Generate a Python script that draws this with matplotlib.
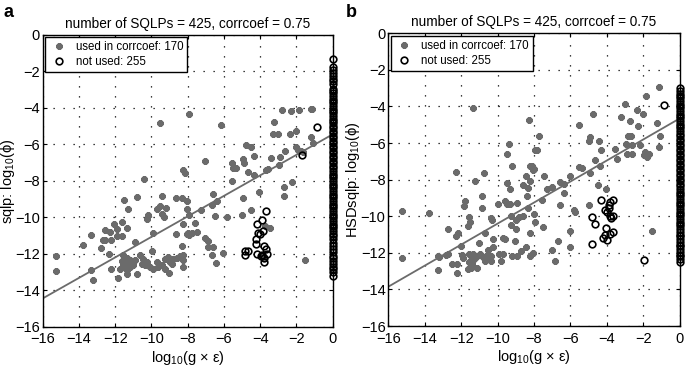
import matplotlib
matplotlib.use("Agg")
import matplotlib.pyplot as plt

plt.rcParams['font.family'] = ['Liberation Sans', 'DejaVu Sans']
plt.rcParams['mathtext.fontset'] = 'custom'
plt.rcParams['mathtext.rm'] = 'Liberation Sans'
plt.rcParams['mathtext.it'] = 'Liberation Sans'

# ---------------- data: panel a ----------------
a_used_x = [-9.53, -7.93, -8.28, -8.15, -10.4, -11.5, -10.78, -9.4, -8.66, -8.33, -8.06, -11.28, -9.68,
            -9.53, -9.22, -8.06, -10.18, -10.27, -9.44, -9.29, -7.93,
            -12.07, -11.64, -11.37, -12.55, -12.29, -11.89, -13.34, -13.8, -12.78, -12.69, -12.55, -12.23,
            -11.89, -11.64, -10.91, -12.33, -9.93, -8.66, -8.06, -7.93, -8.28, -8.33, -15.27, -15.28,
            -13.35, -13.24, -12.25, -11.86,
            -11.59, -11.37, -11.19, -11.46, -11.65, -10.91, -10.63, -10.45, -10.27, -10.54, -10.36, -10.08,
            -9.9, -9.72, -9.62, -9.44, -9.26, -9.07, -8.98, -8.89, -8.8, -8.61, -8.43, -8.24, -8.24, -8.24,
            -9.99, -10.82, -11.33, -11.74, -11.19, -11.33, -11.0, -9.26, -9.02, -11.55, -11.28,
            -6.18, -2.78, -2.32, -1.86, -1.22, -1.13, -3.24, -3.28, -3.0, -2.36, -2.05, -4.79, -4.51, -4.33,
            -7.05, -5.58, -4.97, -4.88, -5.52, -5.36, -4.69, -4.34, -3.7, -3.55, -3.43, -2.95, -2.89, -2.64,
            -2.0, -1.9, -1.75, -1.62, -1.17, -1.07, -5.58, -2.67, -2.23,
            -2.67, -4.07, -4.93, -6.59, -6.4, -6.68, -7.27, -6.5, -5.85, -5.03, -4.53, -7.6, -3.46, -3.74,
            -7.97, -7.78, -7.51, -7.05, -6.9, -6.86, -6.63, -6.68, -6.44, -6.04, -1.53, -3.88, -3.8]
a_used_y = [-4.85, -4.34, -7.42, -7.55, -7.88, -9.07, -8.9, -8.85, -8.94, -8.94, -9.1, -9.56, -9.56,
            -9.38, -9.49, -9.55, -9.89, -10.07, -9.8, -9.98, -9.89,
            -10.35, -10.26, -10.57, -10.68, -10.81, -10.63, -10.99, -11.54, -11.67, -11.23, -11.23, -11.26,
            -11.04, -11.04, -11.36, -12.0, -10.84, -10.93, -10.9, -10.99, -10.35, -11.58, -12.12, -12.97,
            -12.88, -13.46, -12.86, -13.33,
            -12.09, -12.22, -12.36, -12.4, -12.42, -12.33, -12.09, -12.27, -12.46, -12.55, -12.64, -12.73,
            -12.82, -12.46, -12.73, -12.64, -12.27, -12.18, -12.46, -12.55, -12.27, -12.22, -12.15, -12.09, -12.36, -12.7,
            -11.85, -13.13, -13.1, -12.82, -12.73, -12.91, -12.64, -12.82, -13.06, -12.64, -12.55,
            -4.94, -4.12, -4.18, -4.14, -4.07, -4.07, -4.76, -5.44, -5.44, -5.44, -5.26, -6.01, -6.14, -6.65,
            -6.9, -7.01, -6.83, -7.01, -7.27, -7.27, -7.51, -7.66, -7.38, -7.33, -6.74, -7.11, -6.72, -6.37,
            -6.14, -6.32, -6.37, -6.41, -5.62, -5.92, -8.02, -8.33, -8.06,
            -8.83, -8.61, -8.94, -8.74, -9.1, -9.34, -9.58, -9.95, -9.98, -9.89, -9.58, -10.29, -10.59, -10.48,
            -10.84, -10.84, -10.81, -11.12, -11.32, -11.63, -11.63, -12.09, -12.49, -11.94, -12.36, -12.09, -12.2]

a_nu_x = [-0.85, -1.68, -3.66, -3.88, -4.18, -3.85, -4.12, -4.03, -4.25, -4.23, -3.81, -4.84, -4.66,
          -4.84, -3.68, -3.65, -4.16, -3.78, -3.78, -3.9, -3.95]
a_nu_y = [-5.04, -6.56, -9.65, -10.13, -10.38, -10.77, -10.86, -10.9, -11.17, -11.48, -11.59, -11.87, -11.87,
          -12.05, -11.76, -11.99, -12.03, -12.22, -12.45, -12.05, -12.15]
a_zero_y = [-1.3, -1.75, -1.95, -2.1, -2.25, -2.4, -2.55, -2.7, -2.95, -3.05, -3.2, -3.35, -3.5, -3.6,
            -3.75, -3.9, -4.05, -4.15, -4.3, -4.45, -4.6, -4.7, -4.85, -5.0, -5.1, -5.25, -5.4, -5.55,
            -5.65, -5.8, -5.95, -6.1, -6.2, -6.35, -6.5, -6.65, -6.75, -6.9, -7.05, -7.2, -7.3, -7.45,
            -7.6, -7.75, -7.85, -8.0, -8.15, -8.3, -8.4, -8.55, -8.7, -8.85, -8.95, -9.1, -9.25, -9.4,
            -9.5, -9.65, -9.8, -9.95, -10.05, -10.2, -10.35, -10.5, -10.6, -10.75, -10.9, -11.05, -11.2,
            -11.4, -11.6, -11.75, -11.9, -12.1, -12.25, -12.4, -12.55, -12.7, -12.85, -13.0, -13.2]
a_fit_x = [-16, 0]
a_fit_y = [-14.45, -5.45]

# ---------------- data: panel b ----------------
b_used_x = [-11.33, -8.29, -9.39, -9.48, -7.94, -9.22, -8.2, -8.07, -12.28, -10.76, -11.24, -9.48, -9.3,
            -8.43, -8.2, -8.62, -8.31, -10.87, -11.79, -11.86, -10.87, -9.99, -9.59, -9.5, -9.31, -8.95,
            -8.4, -8.31,
            -15.25, -13.78, -15.25, -11.58, -11.49, -11.64, -10.34, -10.3, -12.74, -12.19, -12.28, -12.0,
            -10.7, -11.03, -10.27, -9.26, -8.98, -8.84, -9.26, -8.98, -8.62, -9.72, -9.59, -9.02, -8.25,
            -8.01, -7.94, -8.43, -8.71, -8.07, -8.22, -10.27, -10.54, -13.29, -13.2, -12.83, -12.7, -12.5,
            -12.24, -12.23, -13.29,
            -11.95, -11.88, -11.58, -11.46, -11.33, -11.27, -11.55, -11.4, -11.18, -10.96, -10.82, -10.63,
            -10.54, -10.36, -10.72, -10.36, -11.64, -11.46, -11.14, -9.84, -9.94, -9.68, -9.2, -8.93,
            -1.13, -1.86, -2.99, -2.35, -2.02, -4.77, -3.23, -2.76, -5.52, -2.32, -1.25, -1.07, -7.72, -4.92,
            -5.01, -4.46, -2.87, -2.68, -2.94, -2.63, -2.17, -4.31, -3.54, -7.85, -1.9, -1.71, -1.99, -1.8,
            -1.16, -2.9, -2.63, -3.42, -4.64, -8.12, -8.03, -5.56, -5.38, -4.37, -4.92, -7.48, -6.57, -6.38,
            -7.02, -7.3, -6.02, -4.5, -4.04,
            -5.01, -6.6, -5.83, -5.74, -7.52, -6.02, -1.53, -6.66, -6.02, -7.02, -6.84, -6.38, -7.57]
b_used_y = [-4.08, -4.75, -6.03, -6.61, -6.39, -7.27, -7.27, -7.45, -7.58, -7.64, -8.07, -8.18, -8.53,
            -7.82, -8.07, -8.28, -8.44, -8.92, -9.19, -9.44, -9.55, -9.35, -9.17, -9.35, -9.35, -9.26,
            -8.92, -9.54,
            -9.74, -9.81, -12.28, -10.05, -10.32, -10.56, -10.08, -10.19, -10.72, -10.92, -11.09, -11.6,
            -10.91, -11.47, -11.23, -9.96, -10.19, -10.05, -10.5, -10.69, -10.01, -11.18, -11.23, -11.36, -10.92,
            -9.87, -10.32, -11.69, -11.91, -12.0, -12.15, -11.69, -11.87, -12.15, -12.24, -12.11, -12.09, -12.6,
            -12.6, -13.1, -12.92,
            -12.11, -12.28, -12.06, -12.15, -12.06, -12.33, -12.51, -12.6, -12.24, -12.09, -12.24, -12.15,
            -12.33, -12.2, -12.46, -12.42, -12.88, -12.84, -12.82, -12.42, -12.09, -12.09, -12.15, -12.15,
            -2.92, -3.44, -3.84, -4.17, -4.42, -4.39, -4.57, -4.79, -4.99, -5.08, -4.9, -5.61, -5.61, -5.66,
            -5.88, -5.88, -5.61, -5.61, -6.03, -6.08, -6.12, -6.36, -6.34, -6.36, -6.49, -6.58, -6.67, -6.76,
            -6.21, -6.61, -6.61, -6.89, -6.91, -7.27, -7.4, -7.31, -7.36, -7.27, -7.62, -7.8, -8.13, -8.22,
            -8.4, -8.49, -7.8, -8.31, -8.49,
            -9.41, -9.41, -9.64, -9.77, -10.6, -10.78, -10.78, -11.33, -11.69, -11.87, -12.46, -8.73, -9.13]

b_nu_x = [-0.85, -4.33, -3.64, -3.82, -3.91, -4.09, -4.0, -4.83, -3.82, -3.67, -4.63, -4.04, -3.67,
          -3.82, -4.09, -4.19, -4.0, -4.83, -1.99, -3.9, -3.75]
b_nu_y = [-3.93, -9.13, -9.13, -9.23, -9.41, -9.64, -9.77, -10.05, -9.99, -9.96, -10.45, -10.63, -10.87,
          -10.96, -11.05, -11.18, -11.29, -11.51, -12.39, -9.55, -10.1]
b_zero_y = [-3.0, -3.15, -3.3, -3.4, -3.55, -3.7, -3.85, -3.95, -4.1, -4.25, -4.4, -4.5, -4.65, -4.8,
            -4.95, -5.05, -5.2, -5.35, -5.5, -5.6, -5.75, -5.9, -6.05, -6.15, -6.3, -6.45, -6.6, -6.7,
            -6.85, -7.0, -7.15, -7.25, -7.4, -7.55, -7.7, -7.8, -7.95, -8.1, -8.25, -8.35, -8.5, -8.65,
            -8.8, -8.9, -9.05, -9.2, -9.35, -9.45, -9.6, -9.75, -9.9, -10.0, -10.15, -10.3, -10.45,
            -10.55, -10.7, -10.85, -11.0, -11.1, -11.25, -11.4, -11.55, -11.65, -11.8, -11.95, -12.1,
            -12.2, -12.35, -12.5]
b_fit_x = [-16, 0]
b_fit_y = [-13.85, -4.65]

title_text = "number of SQLPs = 425, corrcoef = 0.75"
xticks = [-16, -14, -12, -10, -8, -6, -4, -2, 0]
yticks = [0, -2, -4, -6, -8, -10, -12, -14, -16]

GRAY = '#6b6b6b'
STAR = (8, 2, 0)

fig = plt.figure(figsize=(6.85, 3.67), dpi=100)
axA = fig.add_axes([0.0623, 0.1098, 0.4234, 0.795])
axB = fig.add_axes([0.5669, 0.1117, 0.4255, 0.7975])


def panel(ax, ux, uy, nx, ny, zy, fx, fy, ylab, letter, letter_x, ylab_x):
    ax.plot(ux, uy, linestyle='none', marker=STAR, ms=4.6, mew=1.7, color=GRAY,
            label='used in corrcoef: 170', zorder=3)
    ax.plot(nx, ny, linestyle='none', marker='o', ms=4.8, mew=1.2, mfc='none', mec='black',
            label='not used: 255', zorder=4)
    ax.plot([0] * len(zy), zy, linestyle='none', marker='o', ms=4.8, mew=1.2, mfc='none',
            mec='black', clip_on=False, zorder=4)
    ax.plot(fx, fy, color=GRAY, lw=1.3, zorder=2)
    ax.set_xlim(-16, 0)
    ax.set_ylim(-16, 0)
    ax.set_xticks(xticks)
    ax.set_yticks(yticks)
    ax.grid(True, color='black', linestyle=(0, (1, 7)), linewidth=0.9)
    ax.set_axisbelow(True)
    ax.tick_params(direction='in', length=3, labelsize=10.5, top=True, right=True)
    ax.tick_params(axis='x', pad=4)
    ax.tick_params(axis='y', pad=2)
    for s in ax.spines.values():
        s.set_linewidth(1.0)
    ax.set_title(title_text, fontsize=9.8, pad=5)
    ax.set_xlabel('log$_{10}$(g × ε)', fontsize=10.5, labelpad=2)
    ax.set_ylabel(ylab, fontsize=10.5)
    ax.yaxis.set_label_coords(ylab_x, 0.5)
    leg = ax.legend(loc='upper left', fontsize=8.3, fancybox=False, framealpha=1,
                    edgecolor='black', borderaxespad=0.2, handletextpad=0.6,
                    borderpad=0.35, labelspacing=0.25, handlelength=1.7)
    leg.get_frame().set_linewidth(1.0)
    fig.text(letter_x, 0.99, letter, fontsize=13, fontweight='bold', va='top', ha='left')


panel(axA, a_used_x, a_used_y, a_nu_x, a_nu_y, a_zero_y, a_fit_x, a_fit_y,
      r'sqlp: log$_{10}$($\phi$)', 'a', 0.005, -0.088)
panel(axB, b_used_x, b_used_y, b_nu_x, b_nu_y, b_zero_y, b_fit_x, b_fit_y,
      r'HSDsqlp: log$_{10}$($\phi$)', 'b', 0.505, -0.092)

fig.savefig('out.png', dpi=100)
